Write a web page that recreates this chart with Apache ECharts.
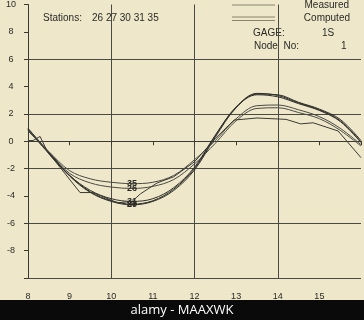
<!DOCTYPE html>
<html><head><meta charset="utf-8">
<script src="https://cdn.jsdelivr.net/npm/echarts@6/dist/echarts.min.js"></script>
<style>html,body{margin:0;padding:0;background:#eee7ca}#c{width:364px;height:320px}</style>
</head><body><div id="c"></div>
<script>
// ---- data ----
const xValues   = [8, 8.5, 9, 9.5, 10, 10.5, 11, 11.5, 12, 12.5, 13, 13.5, 14, 14.5, 15, 15.5, 16];
const station26 = [0.75, -0.8, -2.35, -3.05, -3.35, -3.45, -3.3, -2.8, -1.65, -0.15, 1.5, 2.4, 2.45, 2.1, 1.65, 0.8, -0.35];
const station27 = [0.9, -0.85, -2.55, -3.75, -4.4, -4.65, -4.4, -3.6, -2.1, 0.3, 2.45, 3.45, 3.4, 2.85, 2.35, 1.6, 0.05];
const station30 = [0.95, -0.8, -2.5, -3.7, -4.35, -4.6, -4.35, -3.5, -2.0, 0.4, 2.5, 3.5, 3.35, 2.8, 2.3, 1.5, -0.05];
const station31 = [0.85, -0.9, -2.5, -3.6, -4.2, -4.4, -4.2, -3.4, -1.9, 0.45, 2.5, 3.4, 3.25, 2.75, 2.25, 1.45, -0.1];
const station35 = [0.8, -0.75, -2.15, -2.75, -3.0, -3.1, -3.0, -2.5, -1.35, 0.05, 1.65, 2.6, 2.65, 2.3, 1.8, 0.95, -0.25];
const measuredX = [8, 8.12, 8.29, 8.48, 8.65, 9.25, 9.56, 10.15, 10.5, 10.7, 11.1, 11.5, 12, 12.5, 12.95, 13.5, 14.2, 14.55, 14.85, 15.45, 16];
const measuredY = [0.05, 0.05, 0.35, -0.85, -1.45, -3.75, -3.75, -4.5, -4.4, -3.85, -3.05, -2.6, -1.5, 0.2, 1.55, 1.7, 1.6, 1.27, 1.35, 0.75, -1.2];
const stationNames = ['26', '27', '30', '31', '35'];
const stationValues = [station26, station27, station30, station31, station35];
const labelAtX = 10.5;
const xTickLabels = ['8','9','10','11','12','13','14','15'];
const yTickLabels = ['10','8','6','4','2','0','-2','-4','-6','-8'];

const FONT = '"Liberation Sans", Arial, sans-serif';
const chart = echarts.init(document.getElementById('c'), null, {renderer: 'canvas'});

const series = stationNames.map((name, s) => ({
  name: name,
  type: 'line',
  xAxisIndex: 0, yAxisIndex: 0,
  smooth: 0.35,
  symbol: 'none',
  lineStyle: {color: s === 0 || s === 4 ? '#4a4a44' : '#2e2e2a', width: 1},
  data: xValues.map((x, i) => x === labelAtX ? {
    value: [x, stationValues[s][i]],
    symbol: 'circle', symbolSize: 1,
    itemStyle: {color: 'rgba(0,0,0,0)'},
    label: {show: true, position: 'inside', formatter: name, fontSize: 9, fontWeight: 'bold', color: '#2a2a26', fontFamily: FONT}
  } : [x, stationValues[s][i]]),
  z: 3
}));
series.push({
  name: 'Measured', type: 'line', symbol: 'none',
  xAxisIndex: 0, yAxisIndex: 0,
  lineStyle: {color: '#3a3a34', width: 1},
  data: measuredX.map((x, i) => [x, measuredY[i]]),
  z: 3
});

chart.setOption({
  animation: false,
  backgroundColor: '#eee7ca',
  grid: {left: 28, right: 3, top: 3, bottom: 42},
  xAxis: [{
    type: 'value', min: 8, max: 16, interval: 1, position: 'bottom', offset: 3,
    axisLine: {show: true, lineStyle: {color: '#3a3a34', width: 1}},
    axisTick: {show: true, length: 4, lineStyle: {color: '#3a3a34'}},
    axisLabel: {margin: 11, fontSize: 9, color: '#2a2a26', fontFamily: FONT,
      formatter: v => { const s = String(v); return xTickLabels.indexOf(s) >= 0 ? s : ''; }},
    splitLine: {show: false}
  }, {
    type: 'value', min: 8, max: 16, interval: 2, position: 'top',
    axisLine: {show: false}, axisTick: {show: false}, axisLabel: {show: false},
    splitLine: {show: true, showMinLine: false, showMaxLine: false, lineStyle: {color: '#4a4a44', width: 1}}
  }],
  yAxis: [{
    type: 'value', min: -10, max: 10, interval: 2, position: 'left',
    axisLine: {show: true, lineStyle: {color: '#3a3a34', width: 1}},
    axisTick: {show: true, length: 4, lineStyle: {color: '#3a3a34'}},
    axisLabel: {margin: 17, fontSize: 9, color: '#2a2a26', fontFamily: FONT, align: 'center',
      formatter: v => { const s = String(v); return yTickLabels.indexOf(s) >= 0 ? s : ''; }},
    splitLine: {show: false}
  }, {
    type: 'value', min: -10, max: 10, interval: 4, position: 'right',
    axisLine: {show: false}, axisTick: {show: false}, axisLabel: {show: false},
    splitLine: {show: true, showMaxLine: false, lineStyle: {color: '#4a4a44', width: 1}}
  }],
  series: series,
  graphic: [
    {type: 'text', x: 43, y: 18, style: {text: 'Stations:', fill: '#2a2a26', font: '10px ' + FONT, verticalAlign: 'middle'}},
    {type: 'text', x: 92, y: 18, style: {text: stationNames.join(' '), fill: '#2a2a26', font: '10px ' + FONT, verticalAlign: 'middle'}},
    {type: 'line', shape: {x1: 232, y1: 5, x2: 275, y2: 5}, style: {stroke: '#8a8470', lineWidth: 1}},
    {type: 'text', x: 349, y: 5, style: {text: 'Measured', fill: '#2a2a26', font: '10px ' + FONT, align: 'right', verticalAlign: 'middle'}},
    {type: 'line', shape: {x1: 232, y1: 17, x2: 275, y2: 17}, style: {stroke: '#8a8470', lineWidth: 1}},
    {type: 'line', shape: {x1: 232, y1: 20.5, x2: 275, y2: 20.5}, style: {stroke: '#8a8470', lineWidth: 1}},
    {type: 'text', x: 350, y: 18, style: {text: 'Computed', fill: '#2a2a26', font: '10px ' + FONT, align: 'right', verticalAlign: 'middle'}},
    {type: 'text', x: 253, y: 33, style: {text: 'GAGE:', fill: '#2a2a26', font: '10px ' + FONT, verticalAlign: 'middle'}},
    {type: 'text', x: 322, y: 33, style: {text: '1S', fill: '#2a2a26', font: '10px ' + FONT, verticalAlign: 'middle'}},
    {type: 'text', x: 254, y: 46, style: {text: 'Node  No:', fill: '#2a2a26', font: '10px ' + FONT, verticalAlign: 'middle'}},
    {type: 'text', x: 341, y: 46, style: {text: '1', fill: '#2a2a26', font: '10px ' + FONT, verticalAlign: 'middle'}},
    {type: 'rect', shape: {x: 0, y: 300, width: 364, height: 20}, style: {fill: '#0a0a0a'}},
    {type: 'text', x: 182, y: 310, style: {text: 'alamy - MAAXWK', fill: '#ffffff', font: '13px "Open Sans", sans-serif', align: 'center', verticalAlign: 'middle'}}
  ]
});
</script></body></html>
